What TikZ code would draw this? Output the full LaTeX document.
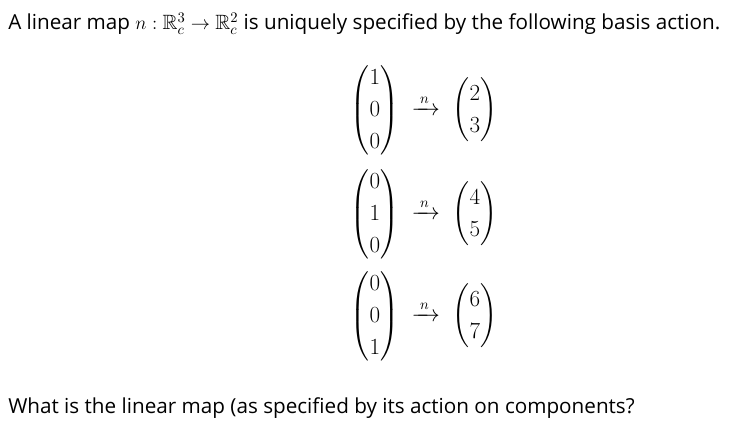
\documentclass[tikz,border=0pt]{standalone}
\usepackage{amsmath,amssymb}
\usepackage{fontspec}
\setmainfont{Open Sans}
\tikzset{txt/.style={anchor=west,inner sep=0pt,font=\fontsize{15.5}{18}\selectfont},
eq/.style={inner sep=0pt,font=\fontsize{16}{19}\selectfont}}
\newcommand{\mymap}[2]{$\renewcommand{\arraystretch}{1.25}\begin{pmatrix}#1\end{pmatrix}\;\xrightarrow{\;n\;}\;\begin{pmatrix}#2\end{pmatrix}$}
\begin{document}
\begin{tikzpicture}[x=0.75pt,y=-0.75pt]
\useasboundingbox (0,0) rectangle (741,440);
\node[txt] (t) at (8,24) {A linear map $n:\mathbb{R}^3_c\to\mathbb{R}^2_c$ is uniquely specified by the following basis action.};
\node[eq] (m1) at (424,110) {\mymap{1\\0\\0}{2\\3}};
\node[eq] (m2) at (424,214) {\mymap{0\\1\\0}{4\\5}};
\node[eq] (m3) at (424,316) {\mymap{0\\0\\1}{6\\7}};
\node[txt] (q) at (8,408) {What is the linear map (as specified by its action on components?};
\end{tikzpicture}
\end{document}
